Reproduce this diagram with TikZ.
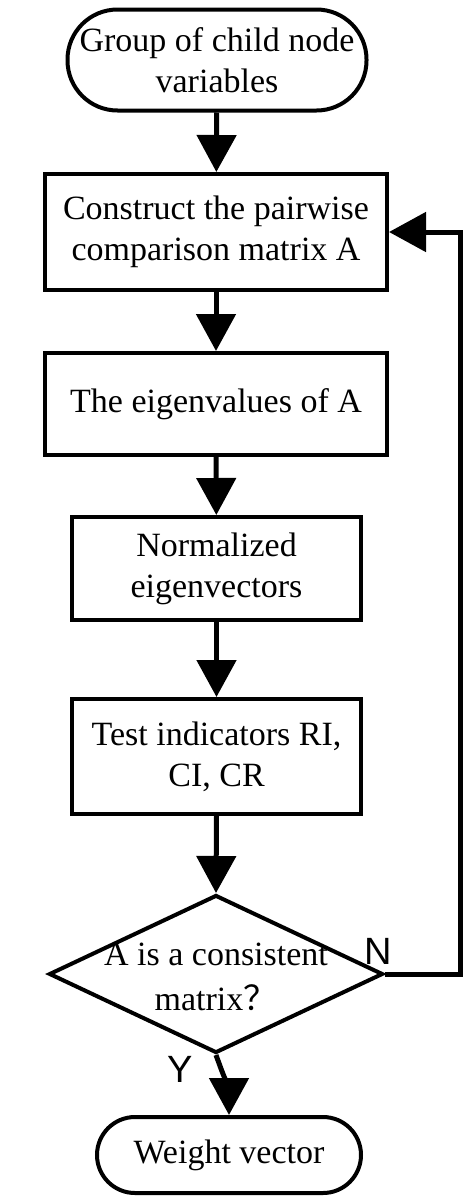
\documentclass[tikz,border=0pt]{standalone}
\usepackage{fontspec}
\setmainfont{Liberation Serif}
\setsansfont{Liberation Sans}
\newfontfamily\cjkfont{Noto Sans CJK SC}
\usetikzlibrary{arrows.meta,shapes.geometric}
\begin{document}
\begin{tikzpicture}[x=1pt,y=-1pt,
  txt/.style={font=\fontsize{34}{41}\selectfont, align=center, inner sep=0pt},
  box/.style={txt, draw, line width=4pt, rectangle},
  term/.style={txt, draw, line width=4pt, rectangle},
  yn/.style={font=\sffamily\fontsize{38}{40}\selectfont, inner sep=0pt},
  conn/.style={line width=5pt, -{Triangle[length=37pt,width=39pt]}},
]
\useasboundingbox (0,0) rectangle (474,1202);
\node[term, minimum width=299pt, minimum height=101pt, rounded corners=50pt] (t) at (217,60) {Group of child node\\variables};
\node[box, minimum width=342pt, minimum height=116pt] (b1) at (216,232) {Construct the pairwise\\comparison matrix A};
\node[box, minimum width=342pt, minimum height=102pt] (b2) at (216,404) {The eigenvalues of A};
\node[box, minimum width=289pt, minimum height=103pt] (b3) at (216.5,568.5) {Normalized\\eigenvectors};
\node[box, minimum width=289pt, minimum height=115pt] (b4) at (216.5,756.5) {Test indicators RI,\\CI, CR};
\node[diamond, draw, line width=4pt, minimum width=334pt, minimum height=158pt, inner sep=0pt] (d) at (216,974) {};
\node[txt, font=\fontsize{34}{45}\selectfont] (dt) at (216,977) {A is a consistent\\matrix{\cjkfont ？}};
\node[term, minimum width=264pt, minimum height=76pt, rounded corners=38pt] (w) at (229,1155) {Weight vector};
\node[yn] (nl) at (378,951) {N};
\node[yn] (yl) at (180,1069) {Y};
\coordinate (fb) at (460,974);
\draw[conn] (t) -- (b1);
\draw[conn] (b1) -- (b2);
\draw[conn] (b2) -- (b3);
\draw[conn] (b3) -- (b4);
\draw[conn] (b4.south) -- (d.north);
\draw[conn] (d.south) to[out=-70,in=90] (w.north);
\draw[conn] (d.east) -- (fb) |- (b1.east);
\end{tikzpicture}
\end{document}
